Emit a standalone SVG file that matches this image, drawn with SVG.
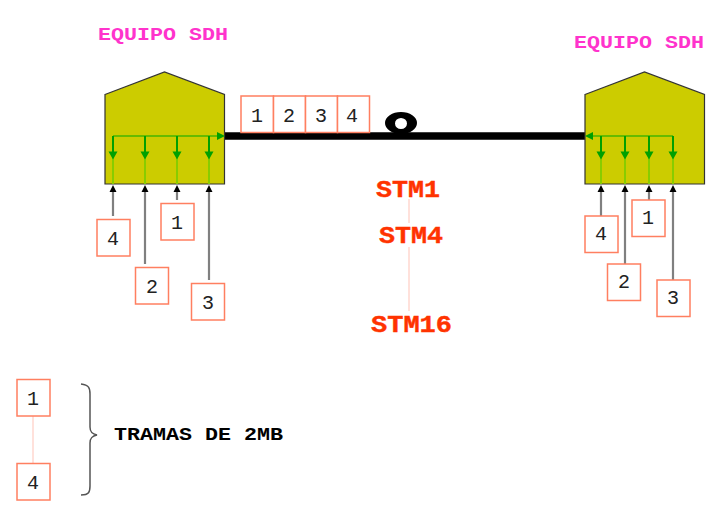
<svg xmlns="http://www.w3.org/2000/svg" width="727" height="521" viewBox="0 0 727 521">
<style>
.house{fill:#cccc00;stroke:#333;stroke-width:1.2}
.g{stroke:#66bb00;stroke-width:2;fill:none}
.gv{stroke:#00a000;stroke-width:2;fill:none}
.gf{stroke:#88cc00;stroke-width:2;fill:none}
.gh{fill:#00a000}
.feed{stroke:#808080;stroke-width:2.200;fill:none}
.tip{fill:#000}
.box{fill:#fff;stroke:#ff7f60;stroke-width:1.5}
.n{font-family:"Liberation Mono","DejaVu Sans Mono",monospace;font-size:20px;fill:#222;text-anchor:middle}
.title{font-family:"Liberation Mono",monospace;font-weight:bold;font-size:18px;fill:#ff33cc}
.stm{font-family:"Liberation Mono",monospace;font-weight:bold;font-size:24px;fill:#ff3300;stroke:#ff3300;stroke-width:.4}
.lbl{font-family:"Liberation Mono",monospace;font-weight:bold;font-size:18px;fill:#000}
.pale{stroke:#ffd5cc;stroke-width:1.4;fill:none}
</style>
<g id="connectors">
<path d="M224 136H585" stroke="#000" stroke-width="7.5" fill="none"/>
<path fill-rule="evenodd" d="M385 123a16 11 0 1 0 32 0a16 11 0 1 0 -32 0ZM395 123.500a6 5.500 0 1 1 12 0a6 5.500 0 1 1 -12 0Z" fill="#000"/>
<path class="pale" d="M409 199V223M409 247V311"/>
<path class="pale" d="M33 416V463"/>
<path class="feed" d="M113 190V216M145 190V264M177 190V200M209 190V280"/>
<path class="tip" d="M109.500 192L113 185L116.500 192ZM141.500 192L145 185L148.500 192ZM173.500 192L177 185L180.500 192ZM205.500 192L209 185L212.500 192Z"/>
<path class="feed" d="M601 190V216M625 190V264M649 190V200M673 190V280"/>
<path class="tip" d="M597.500 192L601 185L604.500 192ZM621.500 192L625 185L628.500 192ZM645.500 192L649 185L652.500 192ZM669.500 192L673 185L676.500 192Z"/>
<path d="M81 384C89 385 90 388 90 394V427C90 432 92 434 97 435C92 436 90 438 90 443V486C90 492 89 495 81 495" fill="none" stroke="#555" stroke-width="1.5"/>
</g>
<g id="equipo-left">
<path class="house" d="M105 94.500L164.500 72L224.500 94.500V184H105Z"/>
<path class="g" d="M113 136H218"/>
<path class="gv" d="M113 136V152M145 136V152M177 136V152M209 136V152"/>
<path class="gf" d="M113 158V184M145 158V184M177 158V184M209 158V184"/>
<path class="gh" d="M108.500 151.500H117.500L113 159.500ZM140.500 151.500H149.500L145 159.500ZM172.500 151.500H181.500L177 159.500ZM204.500 151.500H213.500L209 159.500ZM217 132V140L225 136Z"/>
</g>
<g id="equipo-right">
<path class="house" d="M585 94.500L644.500 72L704.500 94.500V184H585Z"/>
<path class="g" d="M592 136H673"/>
<path class="gv" d="M601 136V152M625 136V152M649 136V152M673 136V152"/>
<path class="gf" d="M601 158V184M625 158V184M649 158V184M673 158V184"/>
<path class="gh" d="M596.500 151.500H605.500L601 159.500ZM620.500 151.500H629.500L625 159.500ZM644.500 151.500H653.500L649 159.500ZM668.500 151.500H677.500L673 159.500ZM593 132V140L585 136Z"/>
</g>
<g id="title-left"><text class="title" x="98" y="40" textLength="130" lengthAdjust="spacingAndGlyphs">EQUIPO SDH</text></g>
<g id="title-right"><text class="title" x="574" y="48" textLength="130" lengthAdjust="spacingAndGlyphs">EQUIPO SDH</text></g>
<g id="frame-1"><rect class="box" x="241" y="96" width="32.500" height="36.500"/><text class="n" x="257" y="122">1</text></g>
<g id="frame-2"><rect class="box" x="273.500" y="96" width="32" height="36.500"/><text class="n" x="289" y="122">2</text></g>
<g id="frame-3"><rect class="box" x="305.500" y="96" width="32" height="36.500"/><text class="n" x="321" y="122">3</text></g>
<g id="frame-4"><rect class="box" x="337.500" y="96" width="32" height="36.500"/><text class="n" x="352" y="122">4</text></g>
<g id="l4"><rect class="box" x="97" y="219.500" width="33" height="36.500"/><text class="n" x="113" y="245">4</text></g>
<g id="l1"><rect class="box" x="161" y="203.500" width="33" height="36.500"/><text class="n" x="177" y="229">1</text></g>
<g id="l2"><rect class="box" x="135.500" y="267.500" width="33" height="36.500"/><text class="n" x="152" y="293">2</text></g>
<g id="l3"><rect class="box" x="191.500" y="283.500" width="33" height="36.500"/><text class="n" x="208" y="309">3</text></g>
<g id="r4"><rect class="box" x="585" y="216" width="33" height="36.500"/><text class="n" x="601" y="240">4</text></g>
<g id="r1"><rect class="box" x="632" y="200" width="33" height="36.500"/><text class="n" x="648" y="224">1</text></g>
<g id="r2"><rect class="box" x="607.500" y="264" width="33" height="36.500"/><text class="n" x="624" y="288">2</text></g>
<g id="r3"><rect class="box" x="657" y="280" width="33" height="36.500"/><text class="n" x="673" y="304">3</text></g>
<g id="stm1"><text class="stm" x="376" y="197" textLength="64" lengthAdjust="spacingAndGlyphs">STM1</text></g>
<g id="stm4"><text class="stm" x="379" y="243" textLength="64" lengthAdjust="spacingAndGlyphs">STM4</text></g>
<g id="stm16"><text class="stm" x="371" y="332" textLength="81" lengthAdjust="spacingAndGlyphs">STM16</text></g>
<g id="legend-1"><rect class="box" x="17" y="379.500" width="33" height="36.500"/><text class="n" x="33" y="405">1</text></g>
<g id="legend-4"><rect class="box" x="17" y="463.500" width="33" height="36.500"/><text class="n" x="33" y="489">4</text></g>
<g id="legend-label"><text class="lbl" x="114" y="440" textLength="169" lengthAdjust="spacingAndGlyphs">TRAMAS DE 2MB</text></g>
</svg>
